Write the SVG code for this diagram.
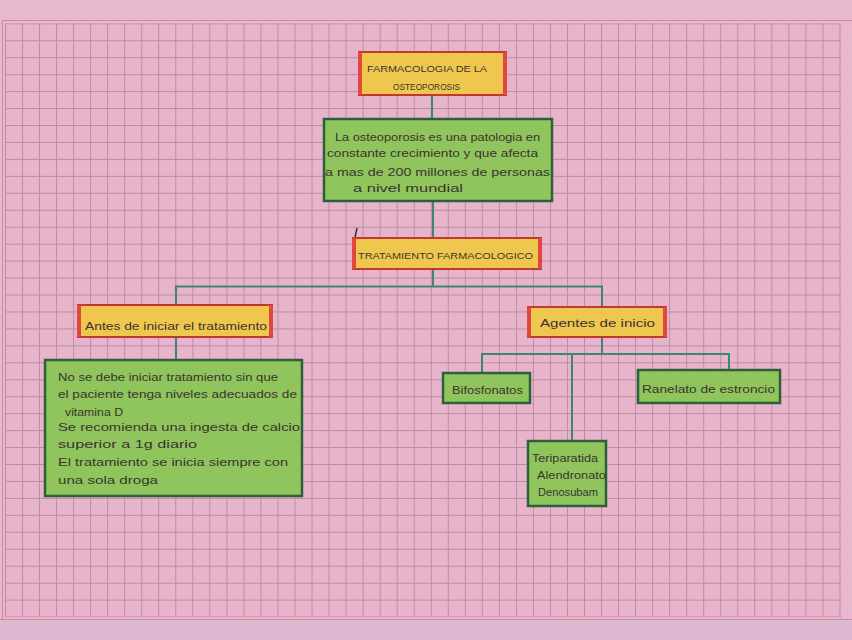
<svg xmlns="http://www.w3.org/2000/svg" width="852" height="640" viewBox="0 0 852 640">
<defs>
<pattern id="grid" patternUnits="userSpaceOnUse" x="5" y="23.3" width="17.03" height="16.95">
<path d="M0 0.5H17.03M0.5 0V16.95" stroke="#6f5a69" stroke-opacity="0.42" stroke-width="1" fill="none"/>
</pattern>
</defs>
<style>
.y{fill:#f0c74e;stroke:#c0392f;stroke-width:2}
.ys{fill:#e2473c}
.g{fill:#90c45c;stroke:#2d5f3a;stroke-width:2.5}
.t{font-family:"Liberation Sans",Arial,sans-serif;fill:#3a352f;font-size:11.5px}
.c{font-family:"Liberation Sans",Arial,sans-serif;fill:#3a352f;font-size:9.5px}
.ln{stroke:#3d8677;stroke-width:2;fill:none}
</style>
<rect x="0" y="0" width="852" height="640" fill="#e8b9ce"/>
<rect x="0" y="620" width="852" height="20" fill="#ddb8d3"/>
<rect x="5" y="23.3" width="836" height="594" fill="#e8b4cb"/>
<rect x="5" y="23.3" width="836" height="594" fill="url(#grid)"/>
<path d="M2 20.5H852M2.5 20V620M0 619.5H852" stroke="#dc8298" stroke-width="1" fill="none"/>

<g id="connectors">
<path class="ln" d="M432 95V118"/>
<path class="ln" d="M433 202V237"/>
<path class="ln" d="M433 270V286.5M176 304V286.5H602V306"/>
<path class="ln" d="M176 337V359"/>
<path class="ln" d="M602 336V354M482 372V354H729V369M572 354V441"/>
<path d="M357 228L354 242" stroke="#3a3030" stroke-width="1.5" fill="none"/>
</g>

<g id="n1">
<rect class="y" x="359" y="52" width="147" height="43"/>
<rect class="ys" x="358" y="52" width="4" height="43"/>
<rect class="ys" x="503" y="52" width="4" height="43"/>
<text class="c" x="367" y="72" textLength="120" lengthAdjust="spacingAndGlyphs">FARMACOLOGIA DE LA</text>
<text class="c" x="393" y="90" textLength="67" lengthAdjust="spacingAndGlyphs">OSTEOPOROSIS</text>
</g>

<g id="n2">
<rect class="g" x="324" y="119" width="228" height="82"/>
<text class="t" x="335" y="141" textLength="205" lengthAdjust="spacingAndGlyphs">La osteoporosis es una patologia en</text>
<text class="t" x="327" y="157" textLength="211" lengthAdjust="spacingAndGlyphs">constante crecimiento y que afecta</text>
<text class="t" x="325" y="176" textLength="225" lengthAdjust="spacingAndGlyphs">a mas de 200 millones de personas</text>
<text class="t" x="353" y="192" textLength="110" lengthAdjust="spacingAndGlyphs">a nivel mundial</text>
</g>

<g id="n3">
<rect class="y" x="353" y="238" width="188" height="31"/>
<rect class="ys" x="352" y="238" width="4" height="31"/>
<rect class="ys" x="538" y="238" width="4" height="31"/>
<text class="c" x="358" y="259" textLength="175" lengthAdjust="spacingAndGlyphs">TRATAMIENTO  FARMACOLOGICO</text>
</g>

<g id="n4">
<rect class="y" x="78" y="305" width="194" height="32"/>
<rect class="ys" x="77" y="305" width="4" height="32"/>
<rect class="ys" x="269" y="305" width="4" height="32"/>
<text class="t" x="85" y="330" textLength="182" lengthAdjust="spacingAndGlyphs">Antes de iniciar el tratamiento</text>
</g>

<g id="n5">
<rect class="y" x="528" y="307" width="138" height="30"/>
<rect class="ys" x="527" y="307" width="4" height="30"/>
<rect class="ys" x="663" y="307" width="4" height="30"/>
<text class="t" x="540" y="327" textLength="115" lengthAdjust="spacingAndGlyphs">Agentes de inicio</text>
</g>

<g id="n6">
<rect class="g" x="45" y="360" width="257" height="136"/>
<text class="t" x="58" y="381" textLength="220" lengthAdjust="spacingAndGlyphs">No se debe iniciar tratamiento sin que</text>
<text class="t" x="58" y="398" textLength="239" lengthAdjust="spacingAndGlyphs">el paciente tenga niveles adecuados de</text>
<text class="t" x="65" y="416" textLength="58" lengthAdjust="spacingAndGlyphs">vitamina D</text>
<text class="t" x="58" y="431" textLength="242" lengthAdjust="spacingAndGlyphs">Se recomienda una ingesta de calcio</text>
<text class="t" x="58" y="448" textLength="139" lengthAdjust="spacingAndGlyphs">superior a 1g diario</text>
<text class="t" x="58" y="466" textLength="230" lengthAdjust="spacingAndGlyphs">El tratamiento se inicia siempre con</text>
<text class="t" x="58" y="484" textLength="100" lengthAdjust="spacingAndGlyphs">una sola droga</text>
</g>

<g id="n7">
<rect class="g" x="443" y="373" width="87" height="30"/>
<text class="t" x="452" y="394" textLength="71" lengthAdjust="spacingAndGlyphs">Bifosfonatos</text>
</g>

<g id="n8">
<rect class="g" x="638" y="370" width="142" height="33"/>
<text class="t" x="642" y="393" textLength="133" lengthAdjust="spacingAndGlyphs">Ranelato de estroncio</text>
</g>

<g id="n9">
<rect class="g" x="528" y="441" width="78" height="65"/>
<text class="t" x="532" y="462" textLength="66" lengthAdjust="spacingAndGlyphs">Teriparatida</text>
<text class="t" x="537" y="479" textLength="69" lengthAdjust="spacingAndGlyphs">Alendronato</text>
<text class="t" x="538" y="496" textLength="60" lengthAdjust="spacingAndGlyphs">Denosubam</text>
</g>
</svg>
